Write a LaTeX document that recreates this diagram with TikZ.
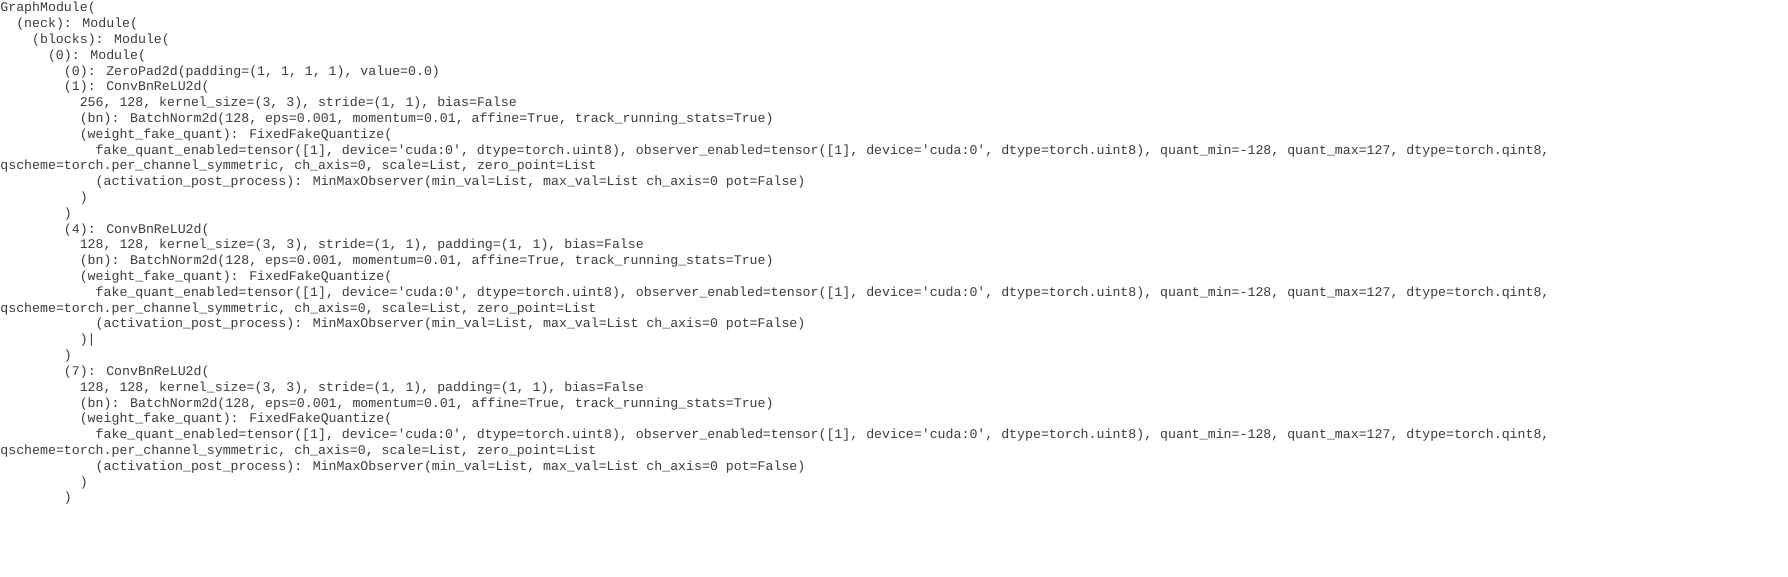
\documentclass[tikz,border=0pt]{standalone}
\usepackage{fontspec}
\usetikzlibrary{positioning}
\newfontfamily\termfont{Liberation Mono}
\definecolor{termtext}{HTML}{3C3C3C}

\newcommand{\codeline}[3]{%
  \node[codetext] (l#1) at ({#2*3.97pt}, {-(6pt+7.9pt*(#1-1))}) {#3};%
}

\begin{document}
\begin{tikzpicture}[
            codetext/.style = {anchor = base west, inner sep = 0pt,
              font = \termfont\fontsize{6.62pt}{7.9pt}\selectfont, text = termtext}
        ]
        \useasboundingbox (0,0) rectangle (894pt,-288.5pt);

        % header
        \codeline{1}{0}{GraphModule(}
        \codeline{2}{2}{(neck): Module(}
        \codeline{3}{4}{(blocks): Module(}
        \codeline{4}{6}{(0): Module(}
        \codeline{5}{8}{(0): ZeroPad2d(padding=(1, 1, 1, 1), value=0.0)}
        % block 1
        \codeline{6}{8}{(1): ConvBnReLU2d(}
        \codeline{7}{10}{256, 128, kernel\_size=(3, 3), stride=(1, 1), bias=False}
        \codeline{8}{10}{(bn): BatchNorm2d(128, eps=0.001, momentum=0.01, affine=True, track\_running\_stats=True)}
        \codeline{9}{10}{(weight\_fake\_quant): FixedFakeQuantize(}
        \codeline{10}{12}{fake\_quant\_enabled=tensor([1], device='cuda:0', dtype=torch.uint8), observer\_enabled=tensor([1], device='cuda:0', dtype=torch.uint8), quant\_min=-128, quant\_max=127, dtype=torch.qint8,}
        \codeline{11}{0}{qscheme=torch.per\_channel\_symmetric, ch\_axis=0, scale=List, zero\_point=List}
        \codeline{12}{12}{(activation\_post\_process): MinMaxObserver(min\_val=List, max\_val=List ch\_axis=0 pot=False)}
        \codeline{13}{10}{)}
        \codeline{14}{8}{)}
        % block 4
        \codeline{15}{8}{(4): ConvBnReLU2d(}
        \codeline{16}{10}{128, 128, kernel\_size=(3, 3), stride=(1, 1), padding=(1, 1), bias=False}
        \codeline{17}{10}{(bn): BatchNorm2d(128, eps=0.001, momentum=0.01, affine=True, track\_running\_stats=True)}
        \codeline{18}{10}{(weight\_fake\_quant): FixedFakeQuantize(}
        \codeline{19}{12}{fake\_quant\_enabled=tensor([1], device='cuda:0', dtype=torch.uint8), observer\_enabled=tensor([1], device='cuda:0', dtype=torch.uint8), quant\_min=-128, quant\_max=127, dtype=torch.qint8,}
        \codeline{20}{0}{qscheme=torch.per\_channel\_symmetric, ch\_axis=0, scale=List, zero\_point=List}
        \codeline{21}{12}{(activation\_post\_process): MinMaxObserver(min\_val=List, max\_val=List ch\_axis=0 pot=False)}
        \codeline{22}{10}{)|}
        \codeline{23}{8}{)}
        % block 7
        \codeline{24}{8}{(7): ConvBnReLU2d(}
        \codeline{25}{10}{128, 128, kernel\_size=(3, 3), stride=(1, 1), padding=(1, 1), bias=False}
        \codeline{26}{10}{(bn): BatchNorm2d(128, eps=0.001, momentum=0.01, affine=True, track\_running\_stats=True)}
        \codeline{27}{10}{(weight\_fake\_quant): FixedFakeQuantize(}
        \codeline{28}{12}{fake\_quant\_enabled=tensor([1], device='cuda:0', dtype=torch.uint8), observer\_enabled=tensor([1], device='cuda:0', dtype=torch.uint8), quant\_min=-128, quant\_max=127, dtype=torch.qint8,}
        \codeline{29}{0}{qscheme=torch.per\_channel\_symmetric, ch\_axis=0, scale=List, zero\_point=List}
        \codeline{30}{12}{(activation\_post\_process): MinMaxObserver(min\_val=List, max\_val=List ch\_axis=0 pot=False)}
        \codeline{31}{10}{)}
        \codeline{32}{8}{)}
      \end{tikzpicture}
\end{document}
